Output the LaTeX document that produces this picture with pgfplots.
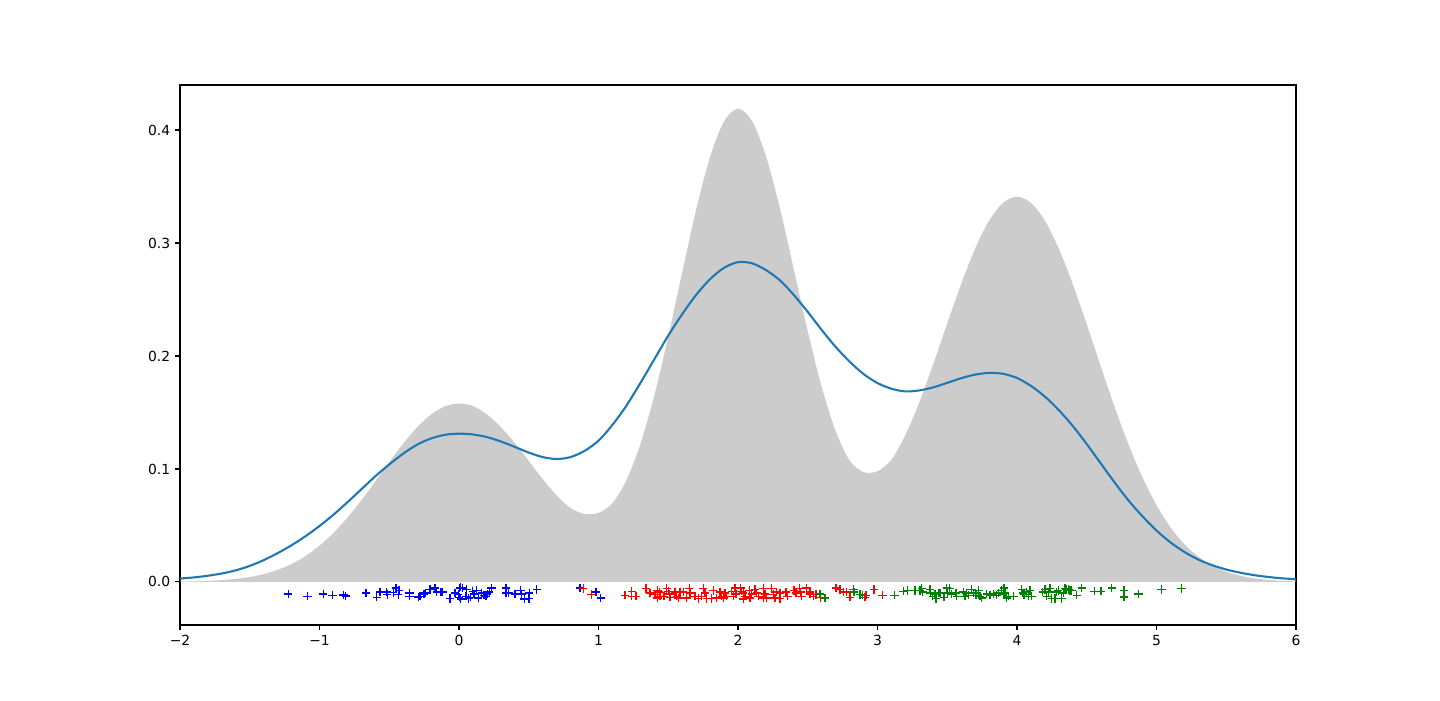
\documentclass[border=0pt]{standalone}
\usepackage{pgfplots}
\pgfplotsset{compat=1.18}
\usepackage{fontspec}
\setmainfont{DejaVu Sans}
\definecolor{fillgray}{HTML}{CCCCCC}
\definecolor{tabblue}{HTML}{1F77B4}
\definecolor{mgreen}{RGB}{0,128,0}
\begin{document}
\begin{tikzpicture}
\begin{axis}[
  scale only axis,
  width=803.52pt, height=388.8pt,
  xmin=-2, xmax=6, ymin=-0.0381, ymax=0.4398,
  axis line style={line width=0.8pt},
  tick align=outside, xtick pos=bottom, ytick pos=left,
  major tick length=3.5pt,
  every tick/.style={black, line width=0.8pt},
  xtick={-2,-1,0,1,2,3,4,5,6},
  xticklabels={−2,−1,0,1,2,3,4,5,6},
  ytick={0,0.1,0.2,0.3,0.4},
  yticklabels={0.0,0.1,0.2,0.3,0.4},
  tick label style={font=\fontsize{10}{12}\selectfont},
  xticklabel style={yshift=-0.5pt},
  /pgf/number format/assume math mode=true,
  clip=true,
]
\addplot[draw=none, fill=fillgray, smooth] table {
x y
-2.0 0.0003
-1.9 0.0005
-1.8 0.0009
-1.7 0.0016
-1.6 0.0027
-1.5 0.0044
-1.4 0.0069
-1.3 0.0107
-1.2 0.0159
-1.1 0.0229
-1.0 0.0321
-0.9 0.0434
-0.8 0.0569
-0.7 0.0723
-0.6 0.0890
-0.5 0.1061
-0.4 0.1224
-0.3 0.1369
-0.2 0.1482
-0.1 0.1555
0.0 0.1580
0.1 0.1556
0.2 0.1483
0.3 0.1371
0.4 0.1228
0.5 0.1071
0.6 0.0911
0.7 0.0766
0.8 0.0654
0.9 0.0603
1.0 0.0611
1.1 0.0697
1.2 0.0900
1.3 0.1219
1.4 0.1649
1.5 0.2171
1.6 0.2739
1.7 0.3294
1.8 0.3762
1.9 0.4076
2.0 0.4189
2.1 0.4080
2.2 0.3771
2.3 0.3310
2.4 0.2767
2.5 0.2217
2.6 0.1725
2.7 0.1335
2.8 0.1075
2.9 0.0972
3.0 0.0980
3.1 0.1082
3.2 0.1300
3.3 0.1590
3.4 0.1929
3.5 0.2289
3.6 0.2638
3.7 0.2951
3.8 0.3198
3.9 0.3355
4.0 0.3410
4.1 0.3355
4.2 0.3197
4.3 0.2949
4.4 0.2634
4.5 0.2279
4.6 0.1908
4.7 0.1547
4.8 0.1215
4.9 0.0923
5.0 0.0680
5.1 0.0484
5.2 0.0334
5.3 0.0223
5.4 0.0145
5.5 0.0090
5.6 0.0055
5.7 0.0032
5.8 0.0018
5.9 0.0010
6.0 0.0005
} \closedcycle;

\addplot[tabblue, line width=1.5pt, smooth] table {
x y
-2.0 0.0030
-1.9 0.0040
-1.8 0.0055
-1.7 0.0075
-1.6 0.0103
-1.5 0.0142
-1.4 0.0193
-1.3 0.0255
-1.2 0.0325
-1.1 0.0405
-1.0 0.0495
-0.9 0.0595
-0.8 0.0705
-0.7 0.0820
-0.6 0.0935
-0.5 0.1040
-0.4 0.1135
-0.3 0.1215
-0.2 0.1270
-0.1 0.1302
0.0 0.1312
0.1 0.1305
0.2 0.1282
0.3 0.1243
0.4 0.1195
0.5 0.1145
0.6 0.1105
0.7 0.1088
0.8 0.1105
0.9 0.1160
1.0 0.1250
1.1 0.1390
1.2 0.1560
1.3 0.1760
1.4 0.1970
1.5 0.2180
1.6 0.2370
1.7 0.2540
1.8 0.2680
1.9 0.2780
2.0 0.2830
2.1 0.2820
2.2 0.2760
2.3 0.2670
2.4 0.2540
2.5 0.2390
2.6 0.2230
2.7 0.2080
2.8 0.1950
2.9 0.1840
3.0 0.1760
3.1 0.1710
3.2 0.1686
3.3 0.1695
3.4 0.1722
3.5 0.1762
3.6 0.1803
3.7 0.1835
3.8 0.1850
3.9 0.1842
4.0 0.1805
4.1 0.1735
4.2 0.1640
4.3 0.1520
4.4 0.1380
4.5 0.1220
4.6 0.1050
4.7 0.0880
4.8 0.0720
4.9 0.0580
5.0 0.0455
5.1 0.0350
5.2 0.0265
5.3 0.0198
5.4 0.0148
5.5 0.0110
5.6 0.0082
5.7 0.0060
5.8 0.0044
5.9 0.0032
6.0 0.0024
};

\addplot[only marks, mark=+, mark size=3pt, blue, mark options={line width=1pt}] coordinates {
(-1.224,-0.0106)(-1.085,-0.0127)(-0.973,-0.0106)(-0.908,-0.0118)(-0.829,-0.0115)(-0.812,-0.0124)(-0.667,-0.0097)(-0.590,-0.0136)(-0.566,-0.0089)(-0.518,-0.0089)(-0.514,-0.0112)(-0.471,-0.0095)(-0.452,-0.0053)(-0.430,-0.0077)(-0.435,-0.0112)(-0.356,-0.0097)(-0.356,-0.0127)(-0.292,-0.0133)(-0.280,-0.0127)(-0.251,-0.0106)(-0.239,-0.0097)(-0.208,-0.0068)(-0.172,-0.0053)(-0.160,-0.0088)(-0.129,-0.0088)(-0.117,-0.0088)(-0.065,-0.0148)(-0.029,-0.0097)(0.005,-0.0053)(0.012,-0.0047)(0.023,-0.0053)(-0.005,-0.0111)(0.002,-0.0135)(0.012,-0.0150)(0.055,-0.0068)(0.050,-0.0127)(0.067,-0.0148)(0.084,-0.0136)(0.098,-0.0083)(0.108,-0.0106)(0.127,-0.0077)(0.138,-0.0142)(0.163,-0.0097)(0.179,-0.0118)(0.194,-0.0127)(0.203,-0.0106)(0.217,-0.0088)(0.234,-0.0053)(0.337,-0.0053)(0.337,-0.0097)(0.354,-0.0097)(0.401,-0.0106)(0.442,-0.0077)(0.449,-0.0106)(0.468,-0.0150)(0.502,-0.0148)(0.504,-0.0097)(0.557,-0.0068)(0.867,-0.0053)(0.982,-0.0088)(1.016,-0.0142)
};
\addplot[only marks, mark=+, mark size=3pt, red, mark options={line width=1pt}] coordinates {
(0.891,-0.0059)(0.951,-0.0112)(1.190,-0.0118)(1.238,-0.0082)(1.238,-0.0127)(1.269,-0.0127)(1.340,-0.0059)(1.369,-0.0097)(1.405,-0.0112)(1.422,-0.0077)(1.436,-0.0088)(1.422,-0.0142)(1.441,-0.0127)(1.470,-0.0127)(1.489,-0.0059)(1.500,-0.0082)(1.508,-0.0106)(1.513,-0.0135)(1.548,-0.0088)(1.561,-0.0127)(1.572,-0.0142)(1.584,-0.0088)(1.608,-0.0088)(1.632,-0.0142)(1.651,-0.0059)(1.656,-0.0097)(1.692,-0.0127)(1.715,-0.0148)(1.739,-0.0127)(1.751,-0.0059)(1.763,-0.0097)(1.776,-0.0148)(1.811,-0.0148)(1.823,-0.0077)(1.847,-0.0142)(1.871,-0.0088)(1.883,-0.0127)(1.895,-0.0142)(1.907,-0.0097)(1.919,-0.0127)(1.955,-0.0082)(1.966,-0.0127)(1.978,-0.0053)(1.986,-0.0106)(2.019,-0.0053)(2.026,-0.0082)(2.038,-0.0097)(2.050,-0.0127)(2.038,-0.0150)(2.081,-0.0077)(2.098,-0.0106)(2.086,-0.0142)(2.134,-0.0097)(2.146,-0.0127)(2.122,-0.0068)(2.182,-0.0059)(2.194,-0.0106)(2.182,-0.0142)(2.205,-0.0142)(2.241,-0.0059)(2.253,-0.0112)(2.265,-0.0142)(2.277,-0.0088)(2.301,-0.0097)(2.301,-0.0148)(2.344,-0.0088)(2.354,-0.0127)(2.401,-0.0077)(2.416,-0.0097)(2.440,-0.0059)(2.449,-0.0088)(2.456,-0.0127)(2.492,-0.0053)(2.516,-0.0088)(2.516,-0.0106)(2.540,-0.0127)(2.559,-0.0112)(2.590,-0.0140)(2.703,-0.0053)(2.731,-0.0068)(2.755,-0.0088)(2.779,-0.0088)(2.803,-0.0135)(2.827,-0.0068)(2.910,-0.0135)(2.918,-0.0118)(2.975,-0.0068)(3.037,-0.0118)
};
\addplot[only marks, mark=+, mark size=3pt, mgreen, mark options={line width=1pt}] coordinates {
(2.588,-0.0106)(2.624,-0.0142)(2.832,-0.0088)(2.875,-0.0112)(2.894,-0.0118)(3.121,-0.0118)(3.185,-0.0082)(3.214,-0.0077)(3.269,-0.0077)(3.305,-0.0077)(3.317,-0.0059)(3.324,-0.0088)(3.376,-0.0068)(3.381,-0.0097)(3.396,-0.0127)(3.412,-0.0106)(3.419,-0.0148)(3.436,-0.0097)(3.448,-0.0097)(3.477,-0.0135)(3.496,-0.0053)(3.500,-0.0097)(3.515,-0.0059)(3.532,-0.0106)(3.563,-0.0097)(3.568,-0.0127)(3.615,-0.0088)(3.627,-0.0127)(3.639,-0.0097)(3.651,-0.0118)(3.675,-0.0068)(3.687,-0.0097)(3.706,-0.0118)(3.723,-0.0077)(3.735,-0.0127)(3.747,-0.0142)(3.783,-0.0106)(3.806,-0.0118)(3.830,-0.0106)(3.854,-0.0118)(3.866,-0.0097)(3.890,-0.0077)(3.907,-0.0053)(3.914,-0.0097)(3.926,-0.0142)(3.902,-0.0112)(3.937,-0.0127)(3.974,-0.0127)(4.034,-0.0068)(4.041,-0.0097)(4.050,-0.0112)(4.070,-0.0088)(4.081,-0.0127)(4.093,-0.0077)(4.106,-0.0127)(4.184,-0.0088)(4.201,-0.0068)(4.213,-0.0127)(4.225,-0.0088)(4.237,-0.0059)(4.249,-0.0148)(4.272,-0.0148)(4.285,-0.0088)(4.296,-0.0077)(4.321,-0.0148)(4.332,-0.0097)(4.344,-0.0059)(4.356,-0.0068)(4.368,-0.0068)(4.380,-0.0077)(4.392,-0.0077)(4.428,-0.0118)(4.464,-0.0053)(4.555,-0.0082)(4.602,-0.0082)(4.679,-0.0053)(4.767,-0.0077)(4.767,-0.0133)(4.870,-0.0106)(5.037,-0.0068)(5.180,-0.0059)
};
\end{axis}
\pgfresetboundingbox
\path[use as bounding box] (current axis.south west) ++(-129.6pt,-54.72pt) rectangle ++(1036.8pt,504.72pt);
\end{tikzpicture}
\end{document}
